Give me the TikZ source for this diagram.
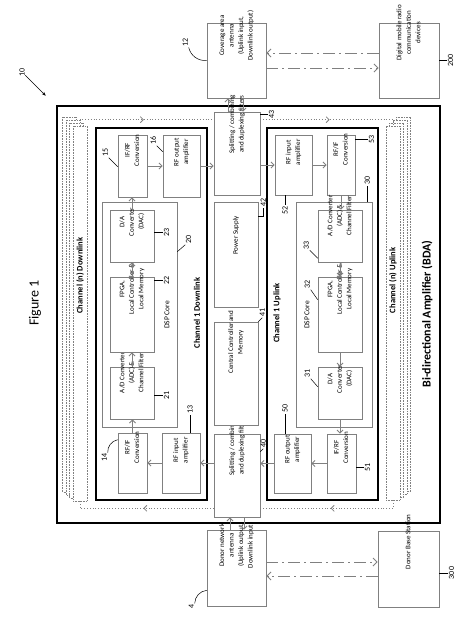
\documentclass[tikz,border=0pt]{standalone}
\usepackage{fontspec}
\setmainfont{Carlito}
\usepackage{graphicx}
\usetikzlibrary{fit,arrows.meta,decorations.markings}
\newcommand\sm{\fontsize{7}{9.5}\selectfont}
\newcommand\rt[1]{\rotatebox{90}{\sm\begin{tabular}{@{}c@{}}#1\end{tabular}}}

\begin{document}
\begin{tikzpicture}[x=1pt,y=-1pt]
  \tikzset{blk/.style={draw=gray, line width=0.6pt, fill=white, inner sep=0pt}}
  \tikzstyle{chan}=[draw=black, line width=2pt, inner sep=0pt]
  \tikzstyle{stk}=[draw=gray, densely dotted, line width=0.6pt, fill=white, inner sep=0pt]
  \tikzstyle{arr}=[draw=gray, line width=1pt, -{Straight Barb[length=3pt,width=6pt]}]
  \tikzstyle{dd}=[draw=gray, line width=1pt, dash pattern=on 12pt off 4pt on 2pt off 4pt, -{Straight Barb[length=4pt,width=8pt]}]
  \tikzstyle{dotarr}=[draw=gray, line width=0.8pt, dotted,
    decoration={markings, mark=at position 0.5 with {\arrow{Straight Barb[length=3pt,width=6pt]}}}, postaction={decorate}]
  \tikzset{num/.style={font=\fontsize{8}{9}\selectfont, rotate=90, inner sep=0.5pt}}
  \tikzstyle{lead}=[draw=black, line width=0.5pt]
  \tikzset{ttl/.style={font=\fontsize{8.5}{10}\selectfont\bfseries, rotate=90}}

  \useasboundingbox (0,0) rectangle (474,632);

  \node[font=\fontsize{14}{16}\selectfont, rotate=90] (fig) at (35,303) {Figure 1};

  % outside boxes
  \node[blk, fit={(207,23) (266,98)}] (cov) {\rt{Coverage area\\antenna\\(Uplink input,\\Downlink output)}};
  \node[blk, fit={(379,23) (439,98)}] (dig) {\rt{Digital mobile radio\\communication\\devices}};
  \node[blk, fit={(207,530) (266,606)}] (don) {\rt{Donor network\\antenna\\(Uplink output,\\Downlink input)}};
  \node[blk, fit={(378,531) (439,607)}] (dbs) {\rt{Donor Base Station}};

  % amplifier
  \node[draw=black, line width=2.5pt, inner sep=0pt, fit={(57,106) (440,523)}] (bda) {};
  \node[font=\fontsize{12}{13}\selectfont\bfseries, rotate=90] (bdat) at (427,314) {Bi-directional Amplifier (BDA)};

  \foreach \k in {3,2,1}
    \draw[stk] (73-3.5*\k,126-3*\k) rectangle (87-3.5*\k,501-3*\k);
  \node[stk, fit={(73,126) (87,501)}] (dnstk) {\rotatebox{90}{\fontsize{8.5}{10}\selectfont\bfseries Channel (n) Downlink}};
  \foreach \k in {3,2,1}
    \draw[stk] (386+3.5*\k,126-3*\k) rectangle (400+3.5*\k,500-3*\k);
  \node[stk, fit={(386,126) (400,500)}] (upstk) {\rotatebox{90}{\fontsize{8.5}{10}\selectfont\bfseries Channel (n) Uplink}};

  \node[chan, fit={(96,128) (207,500)}] (ch1d) {};
  \node[chan, fit={(267,128) (378,500)}] (ch1u) {};
  \node[ttl] (t1d) at (197,313) {Channel 1 Downlink};
  \node[ttl] (t1u) at (277,313) {Channel 1 Uplink};

  \node[blk, fit={(214,112) (260,195)}] (spt) {\rt{Splitting / combining\\and duplexing filters}};
  \node[blk, fit={(214,434) (260,517)}] (spb) {\rt{Splitting / combining\\and duplexing filters}};
  \node[blk, fit={(214,202) (258,307)}] (pwr) {\rt{Power Supply}};
  \node[blk, fit={(214,322) (258,425)}] (ctl) {\rt{Central Controller and\\Memory}};

  % downlink
  \node[blk, fit={(102,202) (177,427)}] (dsp1) {};
  \node[rotate=90, font=\fontsize{7.5}{9}\selectfont] (dspt1) at (167,315) {DSP Core};
  \node[blk, fit={(118,433) (147,493)}] (rfif1) {\rt{RF/IF\\Conversion}};
  \node[blk, fit={(162,433) (200,493)}] (rfin1) {\rt{RF input\\amplifier}};
  \node[blk, fit={(110,367) (154,419)}] (adc1) {\rt{A/D Converter\\(ADC) \&\\Channel Filter}};
  \node[blk, fit={(110,277) (154,352)}] (fpga1) {\rt{FPGA,\\Local Controller \&\\Local Memory}};
  \node[blk, fit={(110,210) (154,262)}] (dac1) {\rt{D/A\\Converter\\(DAC)}};
  \node[blk, fit={(118,135) (147,197)}] (ifrf1) {\rt{IF/RF\\Conversion}};
  \node[blk, fit={(163,135) (200,197)}] (rfout1) {\rt{RF output\\amplifier}};

  % uplink
  \node[blk, fit={(296,202) (372,427)}] (dsp2) {};
  \node[rotate=90, font=\fontsize{7.5}{9}\selectfont] (dspt2) at (307,315) {DSP Core};
  \node[blk, fit={(275,135) (312,195)}] (rfin2) {\rt{RF input\\amplifier}};
  \node[blk, fit={(327,135) (355,195)}] (rfif2) {\rt{RF/IF\\Conversion}};
  \node[blk, fit={(318,210) (362,262)}] (adc2) {\rt{A/D Converter\\(ADC) \&\\Channel Filter}};
  \node[blk, fit={(318,277) (362,352)}] (fpga2) {\rt{FPGA,\\Local Controller \&\\Local Memory}};
  \node[blk, fit={(318,367) (362,419)}] (dac2) {\rt{D/A\\Converter\\(DAC)}};
  \node[blk, fit={(327,434) (356,493)}] (ifrf2) {\rt{IF/RF\\Conversion}};
  \node[blk, fit={(274,434) (311,493)}] (rfout2) {\rt{RF output\\amplifier}};

  % signal paths
  \draw[arr] (spb.west |- rfin1.east) -- (rfin1.east);
  \draw[arr] (rfin1.west) -- (rfif1.east);
  \draw[arr] (rfif1.north) -- (rfif1.north |- adc1.south);
  \draw[arr] (adc1.north) -- (fpga1.south);
  \draw[arr] (fpga1.north) -- (dac1.south);
  \draw[arr] (dac1.north) -- (dac1.north |- ifrf1.south);
  \draw[arr] (ifrf1.east) -- (rfout1.west);
  \draw[arr] (rfout1.east) -- (rfout1.east -| spt.west);

  \draw[arr] (rfin2.west -| spt.east) -- (rfin2.west);
  \draw[arr] (rfin2.east) -- (rfif2.west);
  \draw[arr] (rfif2.south) -- (rfif2.south |- adc2.north);
  \draw[arr] (adc2.south) -- (fpga2.north);
  \draw[arr] (fpga2.south) -- (dac2.north);
  \draw[arr] (dac2.south) -- (dac2.south |- ifrf2.north);
  \draw[arr] (ifrf2.west) -- (ifrf2.west -| rfout2.east);
  \draw[arr] (rfout2.west) -- (rfout2.west -| spb.east);

  \draw[arr] ([xshift=-9pt]spt.north) -- ([xshift=-9pt]spt.north |- cov.south);
  \draw[arr] ([xshift=6pt]spt.north |- cov.south) -- ([xshift=6pt]spt.north);
  \draw[arr] ([xshift=-7pt]spb.south |- don.north) -- ([xshift=-7pt]spb.south);
  \draw[arr] ([xshift=7pt]spb.south) -- ([xshift=7pt]spb.south |- don.north);

  \draw[dd] ([yshift=7.5pt]dig.west) -- ([yshift=7.5pt]dig.west -| cov.east);
  \draw[dd] ([yshift=-7.5pt]cov.east) -- ([yshift=-7.5pt]cov.east -| dig.west);
  \draw[dd] ([yshift=6pt]don.east) -- ([yshift=6pt]don.east -| dbs.west);
  \draw[dd] ([yshift=-8pt]don.east -| dbs.west) -- ([yshift=-8pt]don.east);

  \draw[dotarr] (dnstk.north) |- ([yshift=-8pt]spt.north west);
  \draw[dotarr] ([yshift=-8pt]spt.north east) -| (upstk.north);
  \draw[dotarr] ([yshift=9pt]spb.south west) -| (dnstk.south);
  \draw[dotarr] (upstk.south) |- ([yshift=9pt]spb.south east);

  % reference numbers
  \node[num] (n10) at (22,72) {10};
  \draw[lead, -{Stealth[length=4pt]}] (n10) -- ([shift={(-10pt,9pt)}]bda.north west);
  \draw[lead] (cov.west) to[bend left=40] ++(-18,-13) node[num, anchor=south west] {12};
  \draw[lead] (dig.east) -- ++(8,0) node[num, anchor=north] {200};
  \draw[lead] ([yshift=16pt]don.south west) to[bend right=40] ++(-12,13) node[num, anchor=south east] {4};
  \draw[lead] ([yshift=-4pt]dbs.east) -- ++(9,0) node[num, anchor=north] {300};

  \draw[lead] ([yshift=-7pt]rfif1.north west) to[bend right=40] ++(-10,13) node[num, anchor=south east] {14};
  \draw[lead] ([xshift=9pt]rfin1.north) -- ++(0,-18) node[num, anchor=west] {13};
  \draw[lead] ([yshift=-32pt]ifrf1.north west) -- ++(-9,-9) node[num, anchor=south west] {15};
  \draw[lead] ([yshift=-17pt]rfout1.north west) -- ++(-6,-6) node[num, anchor=south west] {16};
  \draw[lead] ([yshift=-50pt]dsp1.north east) -- ++(8,-7) node[num, anchor=north west] {20};
  \draw[lead] (adc1.east |- 0,395) -- ++(9,0) node[num, anchor=north] {21};
  \draw[lead] (fpga1.east |- 0,280) -- ++(9,0) node[num, anchor=north] {22};
  \draw[lead] (dac1.east |- 0,232) -- ++(9,0) node[num, anchor=north] {23};

  \draw[lead] ([yshift=-18pt]spb.north east) -- ++(3,-3) node[num, anchor=west] {40};
  \draw[lead] (ctl.north east) -- ++(4,-4) node[num, anchor=west] {41};
  \draw[lead] ([yshift=-15pt]pwr.north east) -- ++(5,0) -- ++(0,-9) node[num, anchor=west] {42};
  \draw[lead] ([yshift=-3pt]spt.north east) -- ++(8,0) node[num, anchor=north] {43};

  \draw[lead] ([xshift=-5pt]dsp2.north east) -- ++(0,-16) node[num, anchor=west] {30};
  \draw[lead] ([yshift=-20pt]dac2.north west) -- ++(-7,-8) node[num, anchor=south west] {31};
  \draw[lead] ([yshift=-23pt]fpga2.north west) -- ++(-7,-10) node[num, anchor=south west] {32};
  \draw[lead] ([yshift=4pt]adc2.south west) -- ++(-8,-8) node[num, anchor=south west] {33};
  \draw[lead] ([xshift=-7.5pt]rfout2.north) -- ++(0,-20) node[num, anchor=west] {50};
  \draw[lead] ([yshift=-4pt]ifrf2.east) -- ++(8,0) node[num, anchor=north] {51};
  \draw[lead] ([xshift=-8.5pt]rfin2.south) -- ++(0,10) node[num, anchor=east] {52};
  \draw[lead] ([yshift=-5pt]rfif2.north east) -- ++(13,0) node[num, anchor=north] {53};
\end{tikzpicture}
\end{document}
